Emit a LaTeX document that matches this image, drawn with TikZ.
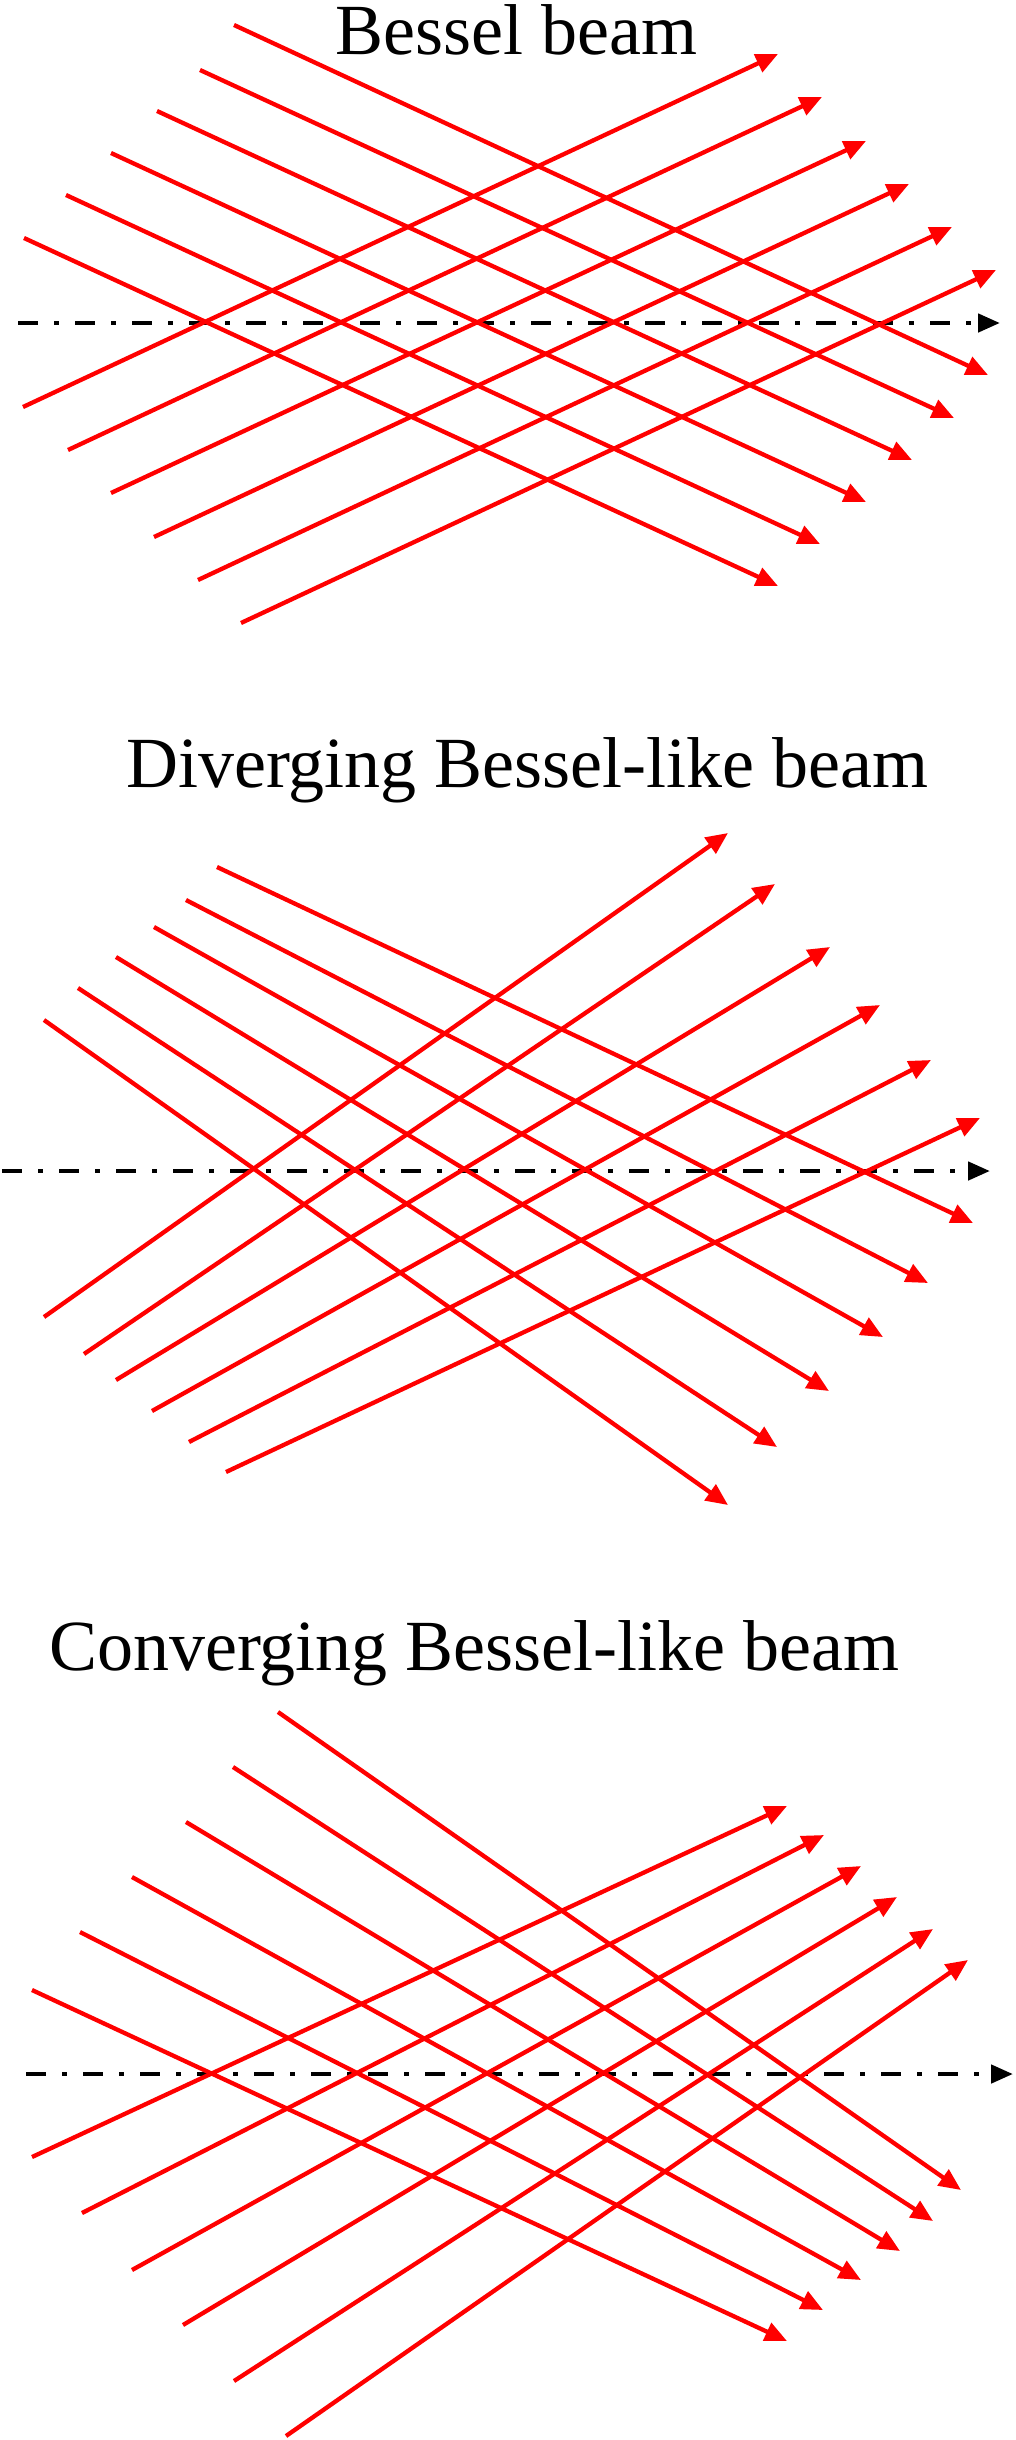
\documentclass[tikz,border=0pt]{standalone}
\usepackage{fontspec}
\setmainfont{Liberation Serif}
\usetikzlibrary{arrows.meta}
\begin{document}
\begin{tikzpicture}[x=1pt,y=-1pt,
  ray/.style={draw=red,line width=4.3pt,-{Triangle[length=22pt,width=19pt]}},
  axisline/.style={draw=black,line width=4.6pt,dash pattern=on 20pt off 16pt on 5pt off 16pt,-{Triangle[length=22pt,width=18pt]}},
  ttl/.style={anchor=base west,inner sep=0pt,font=\fontsize{72}{80}\selectfont}]
\useasboundingbox (0,0) rectangle (1016,2440);
% Panel 1
\node[ttl] (t1) at (335,55) {Bessel beam};
\draw[axisline] (18,323) -- (1000,323);
\foreach \sx/\sy/\ex/\ey in {234/25/988/375, 200/70/954/418, 157/111/912/460, 111/153/866/502, 66/195/820/544, 24/238/778/586}
  \draw[ray] (\sx,\sy) -- (\ex,\ey);
\foreach \sx/\sy/\ex/\ey in {23/407/778/54, 68/450/822/97, 111/493/866/141, 154/537/909/184, 198/580/952/227, 241/623/996/270}
  \draw[ray] (\sx,\sy) -- (\ex,\ey);
% Panel 2
\node[ttl] (t2) at (126,787) {Diverging Bessel-like beam};
\draw[axisline] (2,1171) -- (990,1171);
\foreach \sx/\sy/\ex/\ey in {217/867/973/1223, 186/900/928/1283, 154/927/883/1337, 116/957/829/1391, 78/988/777/1447, 44/1020/728/1505}
  \draw[ray] (\sx,\sy) -- (\ex,\ey);
\foreach \sx/\sy/\ex/\ey in {44/1317/728/833, 84/1354/775/884, 116/1380/830/947, 152/1411/880/1005, 189/1442/931/1060, 226/1472/980/1118}
  \draw[ray] (\sx,\sy) -- (\ex,\ey);
% Panel 3
\node[ttl] (t3) at (49,1670) {Converging Bessel-like beam};
\draw[axisline] (26,2074) -- (1013,2074);
\foreach \sx/\sy/\ex/\ey in {278/1712/961/2190, 233/1767/933/2221, 186/1822/900/2251, 132/1877/861/2280, 80/1932/823/2310, 32/1990/787/2341}
  \draw[ray] (\sx,\sy) -- (\ex,\ey);
\foreach \sx/\sy/\ex/\ey in {32/2157/787/1806, 82/2213/824/1835, 132/2270/861/1866, 183/2325/897/1897, 234/2381/933/1929, 286/2436/968/1960}
  \draw[ray] (\sx,\sy) -- (\ex,\ey);
\end{tikzpicture}
\end{document}
